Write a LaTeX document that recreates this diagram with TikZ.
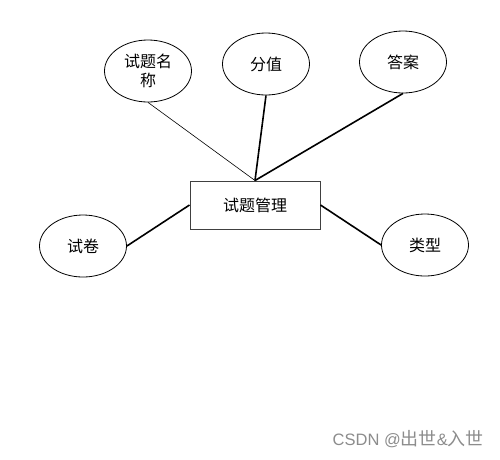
\documentclass[tikz,border=0pt]{standalone}
\usepackage{fontspec}
\setmainfont{Liberation Sans}
\newfontfamily\cjk{Noto Sans CJK SC}
\usetikzlibrary{shapes.geometric}
\begin{document}
\begin{tikzpicture}[x=1pt,y=-1pt,
  attr/.style={draw=black,line width=0.8pt,ellipse,minimum width=87pt,minimum height=62pt,inner sep=0pt,font=\cjk\fontsize{16}{19}\selectfont,align=center},
  ent/.style={draw=black!75,line width=1pt,rectangle,minimum width=130pt,minimum height=48pt,inner sep=0pt,font=\cjk\fontsize{16}{18}\selectfont},
  thin/.style={line width=0.6pt},
  thick/.style={line width=1.6pt}]
\useasboundingbox (0,0) rectangle (500,459);
\node[ent] (m) at (255,205) {试题管理};
\node[attr] (a) at (148,71) {试题名\\称};
\node[attr] (b) at (266,64) {分值};
\node[attr] (c) at (403,62) {答案};
\node[attr] (d) at (83,246) {试卷};
\node[attr] (e) at (425,245) {类型};
\draw[thin] (a.south) -- (m.north);
\draw[thick] (b.south) -- (m.north);
\draw[thick] (c.south) -- (m.north);
\draw[thick] (m.west) -- (d.east);
\draw[thick] (m.east) -- (e.west);
\node[anchor=east,text=black!45,font=\fontsize{16.5}{18}\selectfont,inner sep=0pt] (w) at (484,439) {CSDN @{\cjk\fontsize{18}{20}\selectfont 出世}\&{\cjk\fontsize{18}{20}\selectfont 入世}};
\end{tikzpicture}
\end{document}
